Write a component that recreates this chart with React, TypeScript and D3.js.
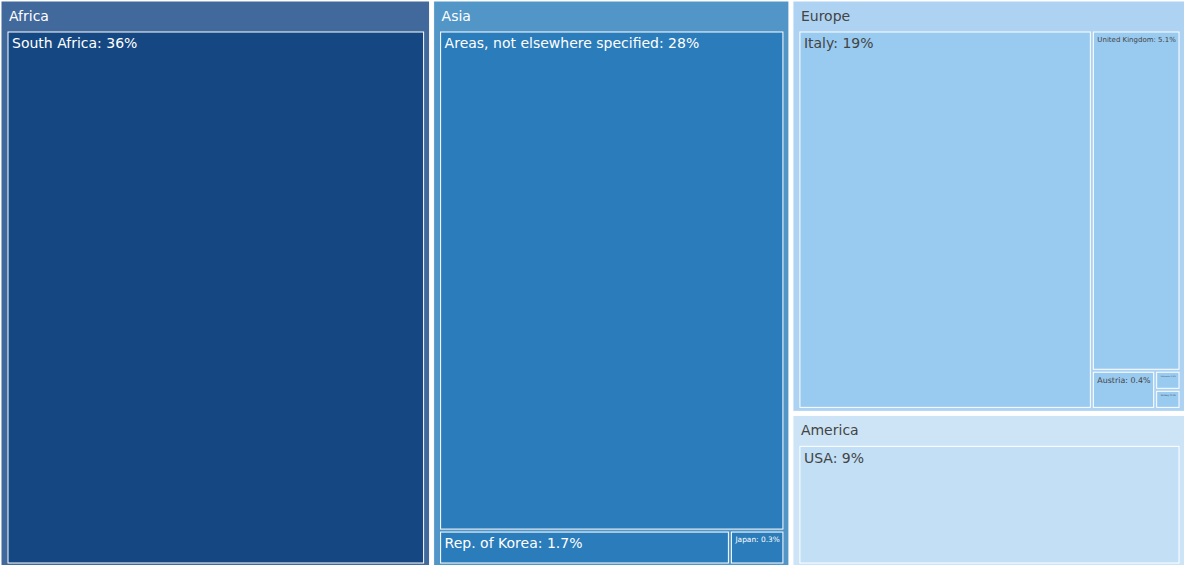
import React, { useMemo } from 'react';
import * as d3 from 'd3';

const continents = ['Africa', 'Asia', 'Europe', 'America'];
const continentColors = ['#42699b', '#5296c7', '#aed3f2', '#cde4f6'];
const leafColors = ['#154882', '#2b7cba', '#99caf0', '#c2dff5'];
const textColors = ['#ffffff', '#ffffff', '#444444', '#444444'];

const countries = [
  'South Africa',
  'Areas, not elsewhere specified',
  'Rep. of Korea',
  'Japan',
  'Italy',
  'United Kingdom',
  'Austria',
  'Lithuania',
  'Norway',
  'USA',
];
const countryContinent = ['Africa', 'Asia', 'Asia', 'Asia', 'Europe', 'Europe', 'Europe', 'Europe', 'Europe', 'America'];
const shares = [36.0, 28, 1.6, 0.3, 18.4, 5.0, 0.4, 0.08, 0.08, 9.0];
const shareLabels = ['36%', '28%', '1.7%', '0.3%', '19%', '5.1%', '0.4%', '0.1%', '0.1%', '9%'];

const W = 1184;
const H = 565;
const FONT = 'DejaVu Sans, Verdana, sans-serif';
const BASE = 14;

let ctx: CanvasRenderingContext2D | null = null;
function measure(text: string, size: number) {
  if (!ctx) ctx = document.createElement('canvas').getContext('2d');
  if (!ctx) return text.length * size * 0.6;
  ctx.font = `${size}px DejaVu Sans`;
  return ctx.measureText(text).width;
}

export default function App() {
  const root = useMemo(() => {
    const data = {
      name: 'root',
      children: continents.map((c) => ({
        name: c,
        children: countries
          .map((n, i) => ({ name: n, value: shares[i], label: shareLabels[i], cont: countryContinent[i] }))
          .filter((d) => d.cont === c),
      })),
    };
    const h = d3
      .hierarchy<any>(data)
      .sum((d: any) => d.value || 0)
      .sort((a, b) => (b.value || 0) - (a.value || 0));
    d3
      .treemap<any>()
      .tile(d3.treemapSquarify.ratio(1))
      .size([W, 566])
      .paddingInner((d: any) => (d.depth === 0 ? 4 : 3))
      .paddingTop((d: any) => (d.depth === 1 ? 31 : 0))
      .paddingLeft((d: any) => (d.depth === 1 ? 7 : 0))
      .paddingRight((d: any) => (d.depth === 1 ? 6 : 0))
      .paddingBottom((d: any) => (d.depth === 1 ? 4 : 0))(h);
    return h as d3.HierarchyRectangularNode<any>;
  }, []);

  const parents = root.children || [];
  const leaves = root.leaves();

  return (
    <svg
      width={W}
      height={H}
      style={{ position: 'absolute', left: 0, top: 0, background: '#fff' }}
      fontFamily={FONT}
    >
      <g transform="translate(1,1)">
        {parents.map((p) => {
          const ci = continents.indexOf(p.data.name);
          return (
            <g key={p.data.name}>
              <rect
                x={p.x0}
                y={p.y0}
                width={p.x1 - p.x0}
                height={p.y1 - p.y0}
                fill={continentColors[ci]}
                stroke="#fff"
                strokeWidth={1}
              />
              <text x={p.x0 + 8} y={p.y0 + 20} fontSize={BASE} fill={textColors[ci]}>
                {p.data.name}
              </text>
            </g>
          );
        })}
        {leaves.map((l) => {
          const ci = continents.indexOf(l.data.cont);
          const text = `${l.data.name}: ${l.data.label}`;
          const w = l.x1 - l.x0;
          const tw = measure(text, BASE);
          const fs = Math.min(BASE, (BASE * (w - 7)) / tw);
          return (
            <g key={l.data.name}>
              <rect
                x={l.x0}
                y={l.y0}
                width={w}
                height={l.y1 - l.y0}
                fill={leafColors[ci]}
                stroke="#fff"
                strokeWidth={1}
              />
              <text x={l.x0 + 4} y={l.y0 + 3 + fs * 0.95} fontSize={fs} fill={textColors[ci]}>
                {text}
              </text>
            </g>
          );
        })}
      </g>
    </svg>
  );
}
